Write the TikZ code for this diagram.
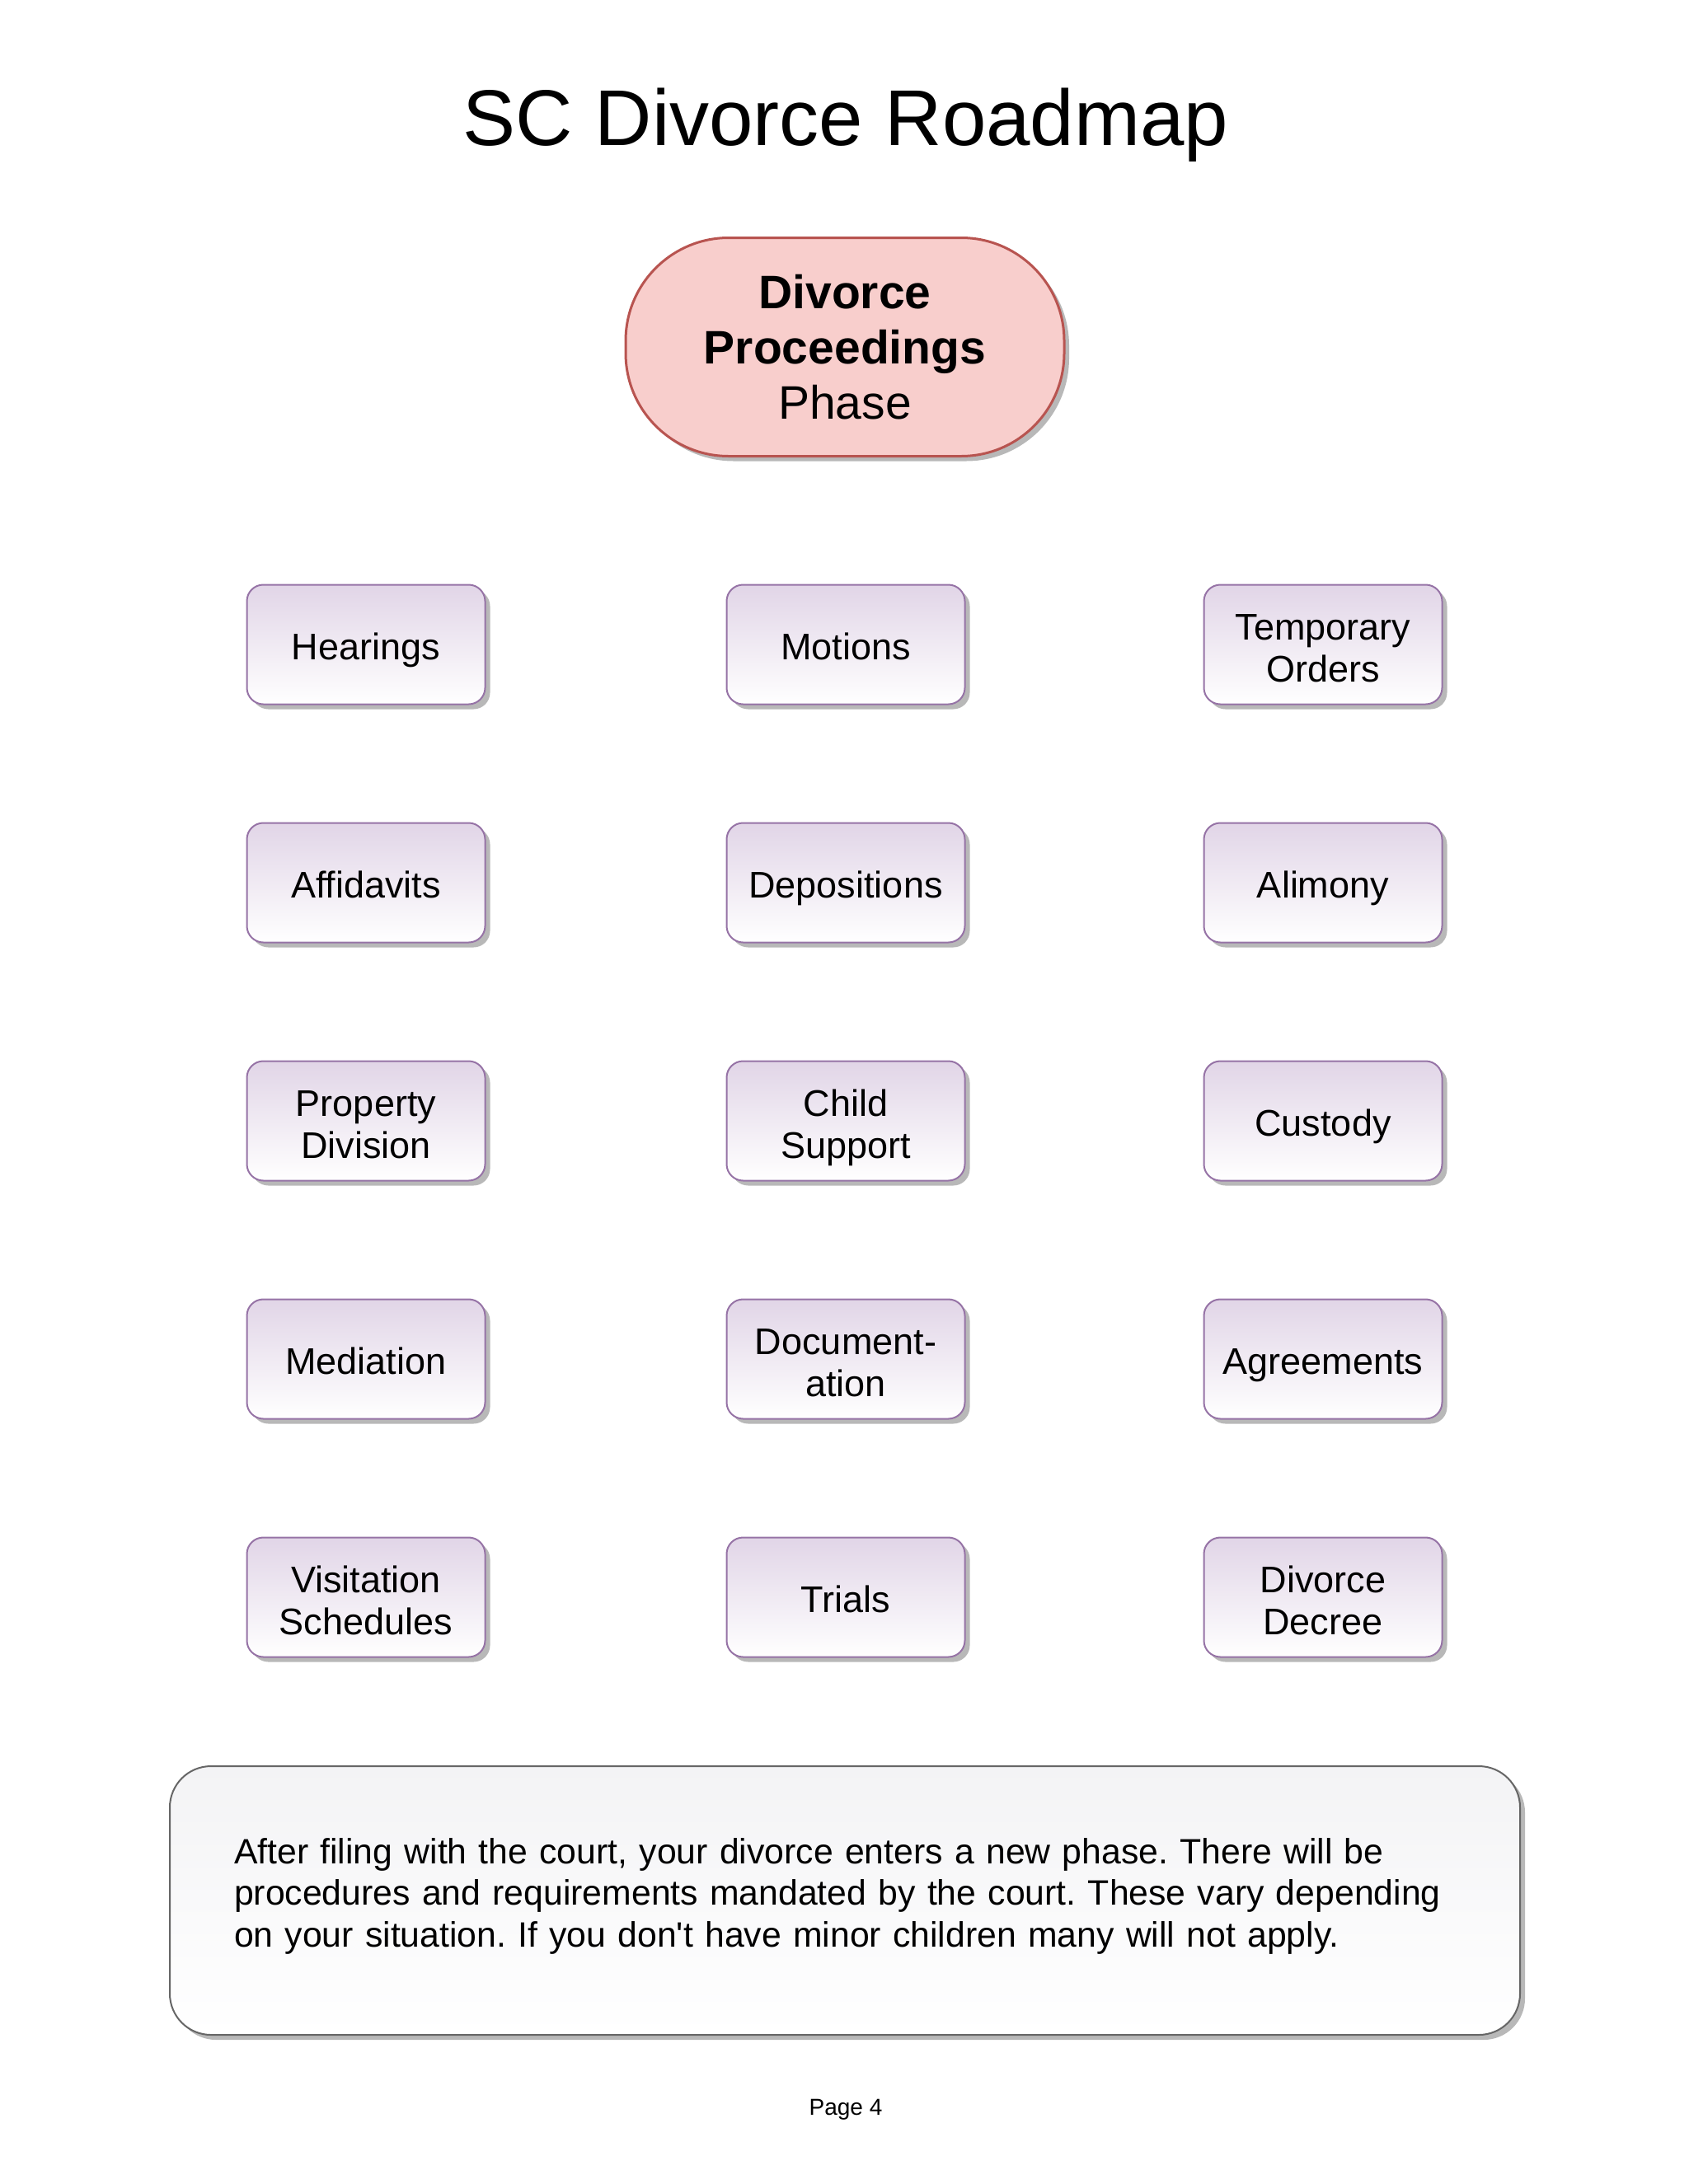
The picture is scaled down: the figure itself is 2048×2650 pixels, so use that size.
\documentclass[tikz,border=0pt]{standalone}
\usepackage{fontspec}
\setmainfont{Liberation Sans}
\usetikzlibrary{shadows}
\definecolor{pinkfill}{HTML}{F8CECC}
\definecolor{pinkline}{HTML}{B85450}
\definecolor{lavtop}{HTML}{E1D5E7}
\definecolor{lavline}{HTML}{9673A6}
\definecolor{greyline}{HTML}{666666}
\definecolor{greytop}{HTML}{F3F3F5}
\definecolor{shadowgrey}{HTML}{B8B8B8}
\newcommand\twoline[2]{\rule{0pt}{56pt}#1\\#2}
\tikzset{
  myshadow/.style={drop shadow={shadow xshift=6pt, shadow yshift=-6pt, fill=shadowgrey, opacity=1}},
  phasebox/.style={rectangle, rounded corners=125pt, minimum width=532pt, minimum height=265pt,
    fill=pinkfill, draw=pinkline, line width=3pt, myshadow, align=center,
    font=\fontsize{57}{67}\selectfont},
  itembox/.style={rectangle, rounded corners=20pt, minimum width=289pt, minimum height=145pt,
    top color=lavtop, bottom color=white, draw=lavline, line width=2pt, myshadow, align=center,
    font=\fontsize{45}{51}\selectfont, inner sep=0pt,
    execute at begin node={\rule{0pt}{52pt}}, execute at end node=\strut},
  notebox/.style={rectangle, rounded corners=50pt, minimum width=1638pt, minimum height=326pt,
    top color=greytop, bottom color=white, draw=greyline, line width=2pt, myshadow, align=left,
    text width=1482pt, font=\fontsize{42.75}{50.5}\selectfont\frenchspacing, inner xsep=78pt},
  titletext/.style={font=\fontsize{96}{115}\selectfont},
  pagetext/.style={font=\fontsize{28}{34}\selectfont}
}
\begin{document}
\begin{tikzpicture}[x=1pt,y=-1pt]
\useasboundingbox (0,0) rectangle (2048,2650);
\node[titletext] (title) at (1026,152) {SC Divorce Roadmap};
\node[phasebox] (phase) at (1025,421) {\textbf{Divorce}\\\textbf{Proceedings}\\Phase};
% row 1
\node[itembox] (hearings) at (444,782) {Hearings};
\node[itembox] (motions) at (1026,782) {Motions};
\node[itembox] (temporary) at (1605,782) {\twoline{Temporary}{Orders}};
% row 2
\node[itembox] (affidavits) at (444,1071) {Affidavits};
\node[itembox] (depositions) at (1026,1071) {Depositions};
\node[itembox] (alimony) at (1605,1071) {Alimony};
% row 3
\node[itembox] (property) at (444,1360) {\twoline{Property}{Division}};
\node[itembox] (childsupport) at (1026,1360) {\twoline{Child}{Support}};
\node[itembox] (custody) at (1605,1360) {Custody};
% row 4
\node[itembox] (mediation) at (444,1649) {Mediation};
\node[itembox] (documentation) at (1026,1649) {\twoline{Document-}{ation}};
\node[itembox] (agreements) at (1605,1649) {Agreements};
% row 5
\node[itembox] (visitation) at (444,1938) {\twoline{Visitation}{Schedules}};
\node[itembox] (trials) at (1026,1938) {Trials};
\node[itembox] (decree) at (1605,1938) {\twoline{Divorce}{Decree}};
% note
\node[notebox] (note) at (1025,2306) {After filing with the court, your divorce enters a new phase. There will be\\procedures and requirements mandated by the court. These vary depending\\on your situation. If you don\textquotesingle t have minor children many will not apply.\rule[-20pt]{0pt}{20pt}};
\node[pagetext] (page) at (1026,2560) {Page 4};
\end{tikzpicture}
\end{document}
